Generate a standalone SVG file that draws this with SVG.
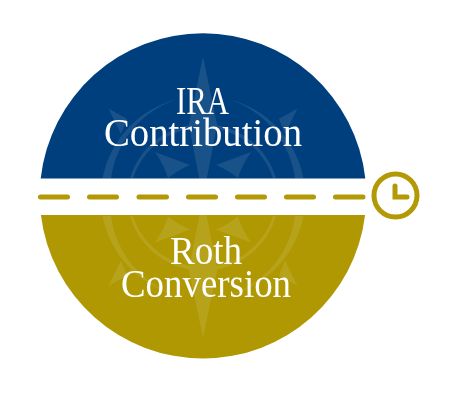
<svg xmlns="http://www.w3.org/2000/svg" width="450" height="407" viewBox="0 0 450 407">
<style>
.t{font-family:"Liberation Serif","Times New Roman",serif;font-size:40px;fill:#fff;text-anchor:middle}
.g{stroke:#b29905;fill:none;stroke-linecap:round}
</style>
<defs>
<clipPath id="bands"><rect x="0" y="0" width="450" height="178.5"/><rect x="0" y="215" width="450" height="192"/></clipPath>
<g id="q">
<path d="M203 57.500L217 125L203 197L189 125Z"/>
<path d="M108.500 108.500L127 119L121 134Z"/>
<path d="M155 152Q174 159 190 165Q178 170 168 178Q164 165 155 152Z"/>
<path d="M102.500 178.500A101.500 101.500 0 0 1 178 99A96 96 0 0 0 111 178.500Z"/>
<path d="M130 178.500A75.500 75.500 0 0 1 203 124V128A72 72 0 0 0 133 178.500Z"/>
</g>
</defs>
<rect width="450" height="407" fill="#fff"/>
<g id="ira"><path d="M40.700 178.500A163.300 163.300 0 0 1 365.300 178.500Z" fill="#003f7d"/></g>
<g id="roth"><path d="M40.900 215A163.300 163.300 0 0 0 365.100 215Z" fill="#b09803"/></g>
<g id="compass" clip-path="url(#bands)" opacity=".1" fill="#fff">
<use href="#q"/>
<use href="#q" transform="matrix(-1 0 0 1 406 0)"/>
<use href="#q" transform="matrix(1 0 0 -1 0 394.500)"/>
<use href="#q" transform="matrix(-1 0 0 -1 406 394.500)"/>
</g>
<g id="labels">
<text class="t" x="202.500" y="114" textLength="53" lengthAdjust="spacingAndGlyphs">IRA</text>
<text class="t" x="203" y="146" textLength="198" lengthAdjust="spacingAndGlyphs">Contribution</text>
<text class="t" x="206" y="264" textLength="72" lengthAdjust="spacingAndGlyphs">Roth</text>
<text class="t" x="206" y="297" textLength="170" lengthAdjust="spacingAndGlyphs">Conversion</text>
</g>
<g id="connectors">
<path class="g" stroke-width="5" d="M40.500 197H67.500M89.500 197H116.500M139 197H166.500M188.500 197H215.500M237.500 197H264.500M286.500 197H313.500M335.500 197H363"/>
</g>
<g id="clock">
<circle class="g" cx="395.500" cy="195.500" r="21.500" stroke-width="5"/>
<path class="g" stroke-width="5" d="M395 186V197H407"/>
</g>
</svg>
